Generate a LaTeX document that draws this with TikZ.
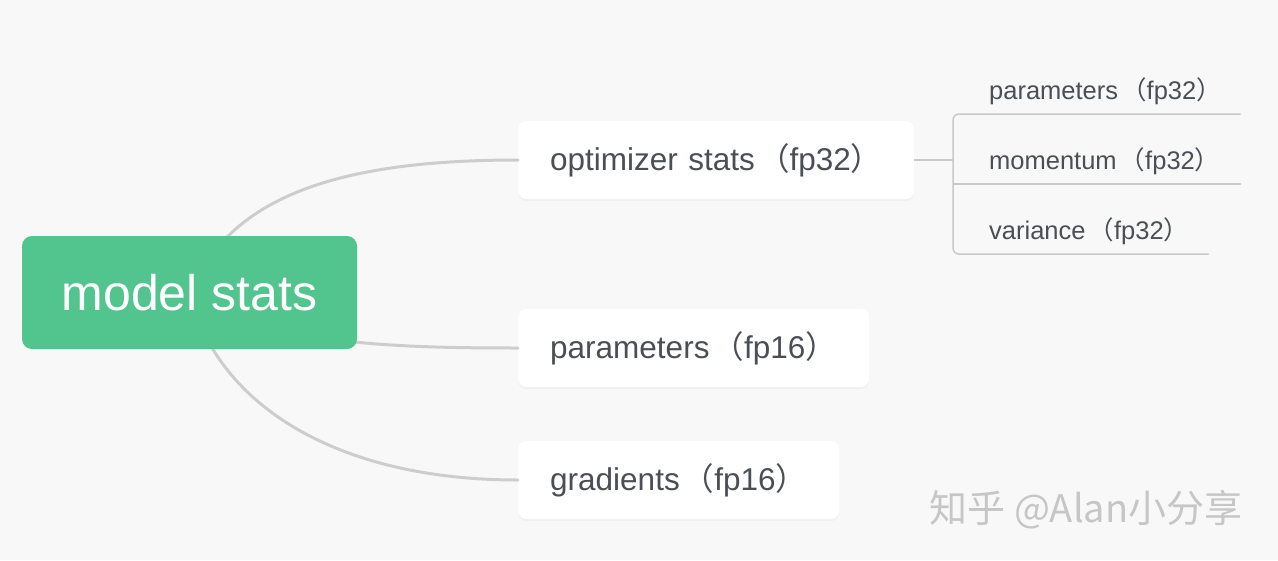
\documentclass[tikz,border=0pt]{standalone}
\usepackage{fontspec}
\setmainfont{Liberation Sans}
\newfontfamily\cjk{Noto Sans CJK SC}
\usetikzlibrary{positioning,shadows}
\definecolor{bgcol}{HTML}{F8F8F8}
\definecolor{rootgreen}{HTML}{52C48D}
\definecolor{linkgray}{HTML}{CDCDCD}
\definecolor{leafgray}{HTML}{C9C9C9}
\definecolor{textgray}{HTML}{4A4F55}
\definecolor{markgray}{HTML}{C6C6C6}
\newcommand\lpar{\kern3pt{\cjk （}}
\newcommand\rpar{{\cjk ）}}
\tikzset{
  rootbox/.style={fill=rootgreen,rounded corners=10pt,text=white,
    minimum width=335pt,minimum height=113pt,inner sep=0pt,
    font=\fontsize{50}{60}\selectfont},
  statbox/.style={fill=white,rounded corners=8pt,text=textgray,
    minimum height=78pt,inner xsep=32pt,inner ysep=0pt,align=left,
    drop shadow={shadow xshift=0pt,shadow yshift=-2pt,opacity=0.06},
    font=\fontsize{31.5}{36}\selectfont},
  leafbox/.style={text width=287pt,minimum height=46pt,inner sep=0pt,align=left,
    text=textgray,font=\fontsize{25.5}{30}\selectfont},
  link/.style={draw=linkgray,line width=3pt},
  leafline/.style={draw=leafgray,line width=1.5pt}
}
\begin{document}
\begin{tikzpicture}[x=1pt,y=-1pt,line cap=round]
	% page and background
	\fill[bgcol] (0,0) rectangle (1278,560);
	\useasboundingbox (0,0) rectangle (1278,560);
	% first level boxes
	\node[statbox,text width=332pt,anchor=west] (opt) at (518,160) {\mbox{optimizer stats\lpar fp32\rpar}};
	\node[statbox,text width=287pt,anchor=west] (par) at (518,348) {\mbox{parameters\lpar fp16\rpar}};
	\node[statbox,text width=257pt,anchor=west] (grad) at (518,480) {\mbox{gradients\lpar fp16\rpar}};
	% links leave the root centre, root is drawn over them
	\coordinate (hub) at (189.5,292.5);
	\draw[link] (hub) .. controls (230,200) and (330,160) .. (opt.west);
	\draw[link] (hub) .. controls (260,345) and (400,348) .. (par.west);
	\draw[link] (hub) .. controls (215,400) and (330,480) .. (grad.west);
	\node[rootbox] (root) at (hub) {model stats};
	% second level of optimizer stats
	\coordinate (fork) at (953,160);
	\draw[leafline] (opt.east) -- (fork);
	\node[leafbox,anchor=south west] (lp) at (953,114) {\hspace*{36pt}\mbox{parameters\lpar fp32\rpar}};
	\node[leafbox,anchor=south west] (lm) at (953,184) {\hspace*{36pt}\mbox{momentum\lpar fp32\rpar}};
	\node[leafbox,anchor=south west,text width=255pt] (lv) at (953,254) {\hspace*{36pt}\mbox{variance\lpar fp32\rpar}};
	\draw[leafline,rounded corners=6pt] (lp.south east) -- (lp.south west) -- (lv.south west) -- (lv.south east);
	\draw[leafline] (lm.south west) -- (lm.south east);
	% watermark
	\node[text=markgray,font=\cjk\fontsize{38}{44}\selectfont,anchor=east] (mark) at (1246,510) {知乎 @Alan小分享};
\end{tikzpicture}
\end{document}
